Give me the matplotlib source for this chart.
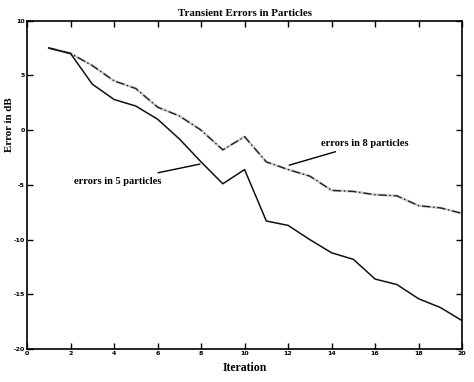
import matplotlib
matplotlib.use('Agg')
import matplotlib.pyplot as plt
from matplotlib import rcParams

rcParams['font.family'] = ['Liberation Serif']
rcParams['font.size'] = 8.0
rcParams['axes.unicode_minus'] = False

# data
iteration = list(range(1, 21))
err_5 = [7.5, 7.0, 4.2, 2.8, 2.2, 1.0, -0.8, -2.9, -4.9, -3.6,
         -8.3, -8.7, -10.0, -11.2, -11.8, -13.6, -14.1, -15.4, -16.2, -17.4]
err_8 = [7.5, 7.0, 5.9, 4.5, 3.8, 2.1, 1.3, 0.0, -1.8, -0.6,
         -2.9, -3.6, -4.2, -5.5, -5.6, -5.9, -6.0, -6.9, -7.1, -7.6]
x_ticks = list(range(0, 21, 2))
y_ticks = [-20, -15, -10, -5, 0, 5, 10]

fig = plt.figure(figsize=(4.74, 3.82), dpi=100)
ax = fig.add_axes([0.057, 0.086, 0.918, 0.860])

# light halo under the dash-dot line, like the scanned original
ax.plot(iteration, err_8, color='#cccccc', lw=1.8, solid_capstyle='round')
ax.plot(iteration, err_8, color='#222222', lw=1.0, linestyle=(0, (6, 2, 1, 2)))
ax.plot(iteration, err_5, color='#111111', lw=1.1)

ax.set_xlim(0, 20)
ax.set_ylim(-20, 10)
ax.set_xticks(x_ticks)
ax.set_yticks(y_ticks)
ax.tick_params(direction='in', length=4, width=1, top=True, right=True,
               labelsize=4.5, pad=1.5)
for lbl in ax.get_xticklabels() + ax.get_yticklabels():
    lbl.set_fontfamily('DejaVu Sans')
    lbl.set_fontweight('bold')
for s in ax.spines.values():
    s.set_linewidth(1.2)

ax.set_title('Transient Errors in Particles', fontsize=7.8, fontweight='bold', pad=3)
ax.set_xlabel('Iteration', fontsize=8.5, fontweight='bold', labelpad=4)
ax.set_ylabel('Error in dB', fontsize=7.8, fontweight='bold')
ax.yaxis.set_label_coords(-0.031, 0.682)

ax.annotate('errors in 8 particles', xy=(12.05, -3.2), xytext=(13.5, -1.2),
            ha='left', va='center', fontsize=7.5, fontweight='bold',
            arrowprops=dict(arrowstyle='-', color='black', lw=1, shrinkA=3, shrinkB=0))
ax.annotate('errors in 5 particles', xy=(7.95, -3.1), xytext=(6.16, -4.66),
            ha='right', va='center', fontsize=7.5, fontweight='bold',
            arrowprops=dict(arrowstyle='-', color='black', lw=1, shrinkA=4, shrinkB=0))

fig.savefig('out.png', dpi=100)
